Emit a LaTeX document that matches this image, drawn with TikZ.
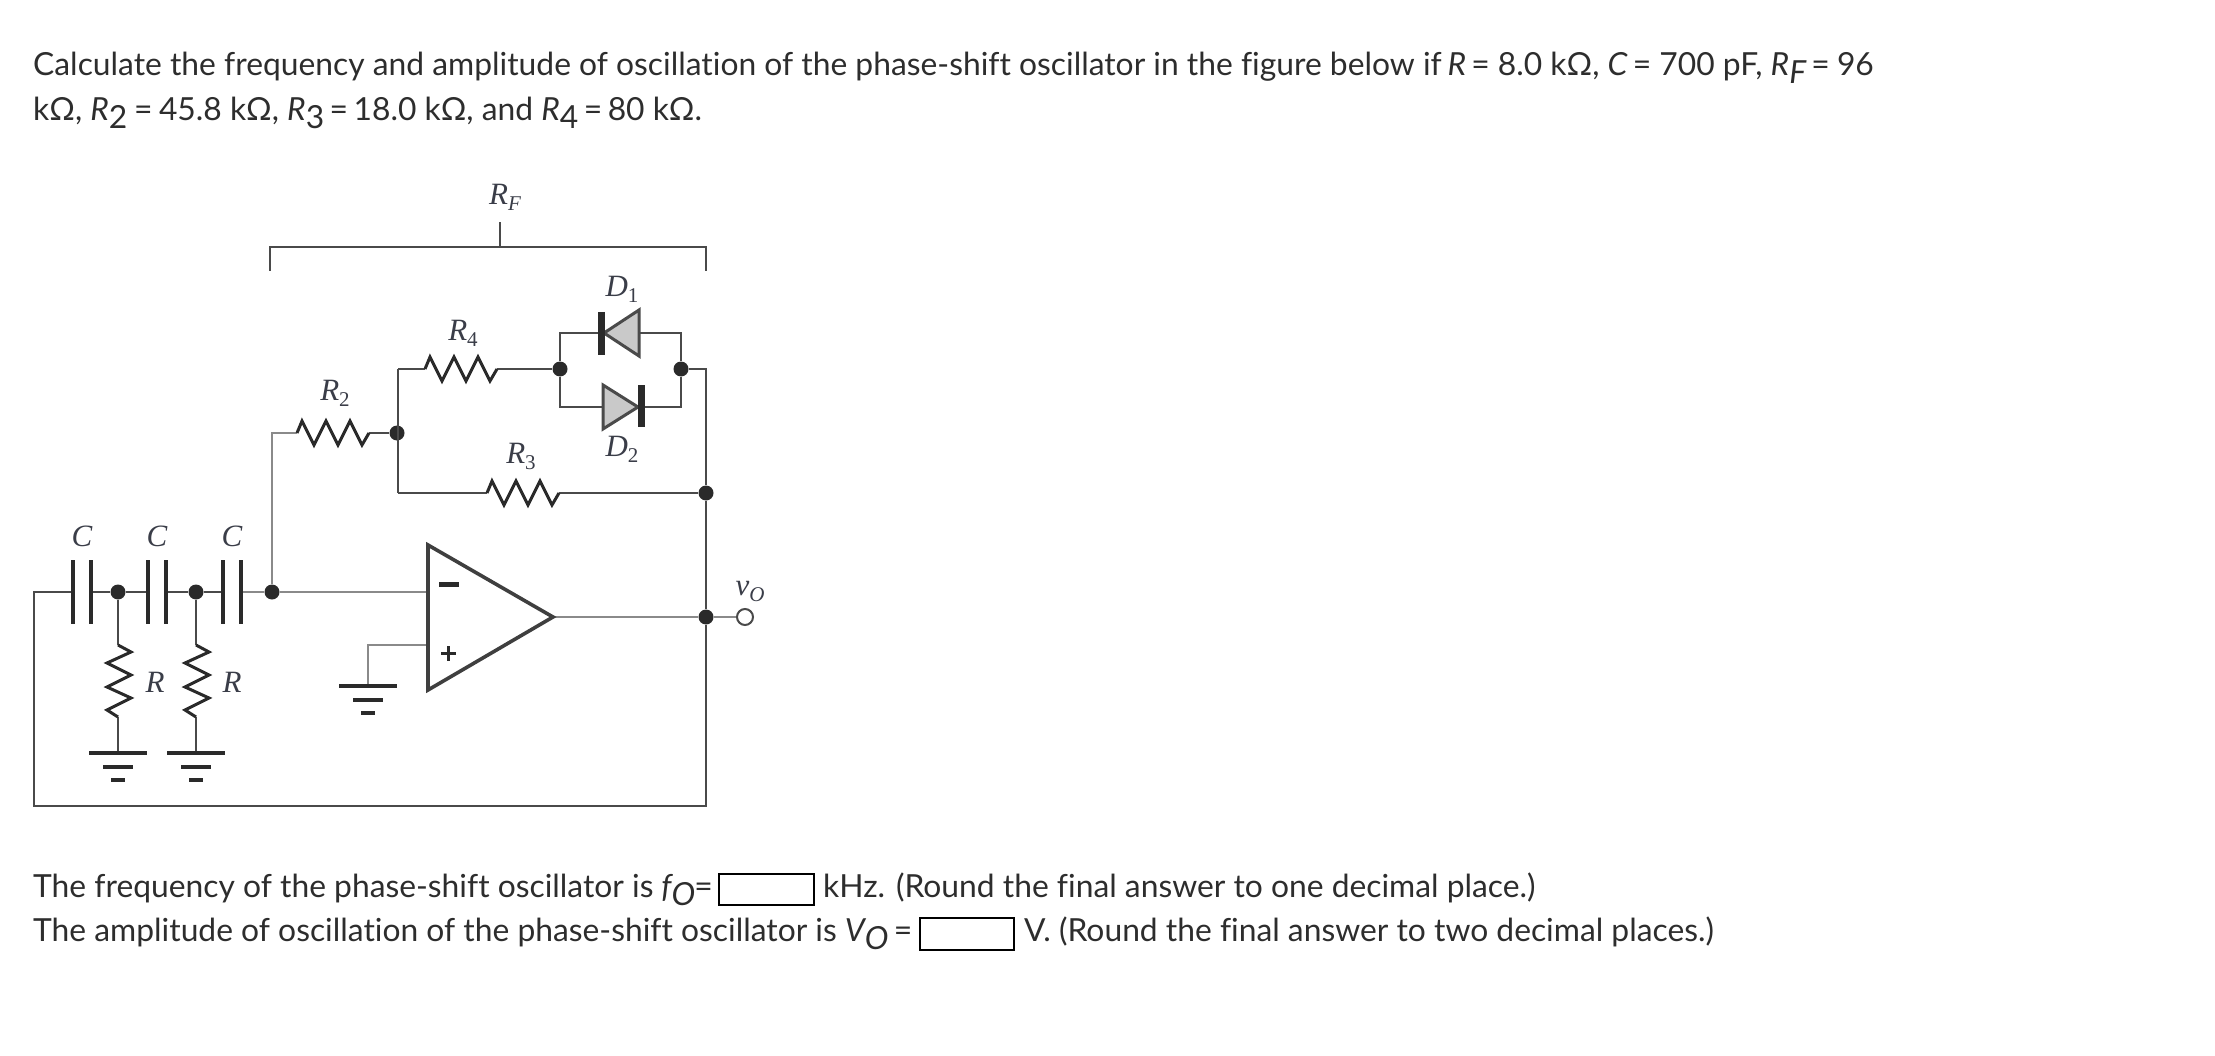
\documentclass[tikz,border=0pt]{standalone}
\usepackage{fontspec}
\usetikzlibrary{calc}
\setmainfont[Ligatures=CommonOff]{Lato}
\newfontfamily\circfont{Liberation Serif}
\newcommand{\lw}[1]{\raisebox{-8pt}{#1}}
\newcommand{\cirlab}[2]{{\itshape #1}\raisebox{-6pt}{\fontsize{21}{21}\selectfont #2}}
\newcommand{\cirlabi}[2]{{\itshape #1}\raisebox{-6pt}{\fontsize{21}{21}\selectfont\itshape #2}}
\newcommand{\tighteq}[1]{\hspace{#1}=\hspace{#1}}
\definecolor{wire}{HTML}{4A4A4A}
\definecolor{lightwire}{HTML}{8A8A8A}
\definecolor{ink}{HTML}{2A2A2A}
\definecolor{labelink}{HTML}{3A3D48}
\definecolor{diodefill}{HTML}{C9C9C9}
\definecolor{textink}{HTML}{2D2D2D}
\tikzset{
  x=1pt,y=-1pt,
  wireline/.style={draw=wire,line width=2.3pt,line join=miter},
  lightline/.style={draw=lightwire,line width=2.3pt},
  junction/.style={circle,fill=ink,inner sep=0pt,minimum size=15pt},
  terminal/.style={circle,draw=wire,line width=2pt,fill=white,inner sep=0pt,minimum size=16pt},
  txt/.style={anchor=base west,inner sep=0pt,text=textink,font=\fontsize{31.8}{36}\selectfont},
  cirtxt/.style={inner sep=0pt,text=labelink,font=\circfont\fontsize{31}{31}\selectfont},
  answerbox/.style={draw=black,line width=2pt,fill=white,inner sep=0pt},
  zig/.style={draw=ink,line width=3pt,line join=miter},
  hres/.pic={\draw[zig] (0,0) -- (5,-12) -- (17,12) -- (29,-12) -- (41,12) -- (53,-12) -- (65,12) -- (72,0);},
  vres/.pic={\draw[zig] (0,0) -- (13,7) -- (-11,18) -- (13,30) -- (-11,42) -- (13,53) -- (-11,65) -- (0,72);},
  gnd/.pic={\draw[draw=ink,line width=3.4pt] (-29,0) -- (29,0) (-15,14) -- (15,14) (-7,27) -- (7,27);},
  capac/.pic={\draw[draw=ink,line width=4pt] (-9,-32) -- (-9,32) (9,-32) -- (9,32);},
}
\begin{document}
\begin{tikzpicture}
\useasboundingbox (0,0) rectangle (2215,1056);
% text
\node[txt] (t1) at (33,76) {Calculate the frequency and amplitude of oscillation of the phase-shift oscillator in the figure below if\hspace{-2pt} {\itshape R}\,= 8.0 kΩ, {\itshape C}\,= 700 pF, {\itshape R}\lw{\itshape F}\,=\hspace{-1pt} 96};
\node[txt] (t2) at (33,121) {kΩ, {\itshape R}\lw{2}\tighteq{6.6pt}45.8 kΩ, {\itshape R}\lw{3}\tighteq{5.5pt}18.0 kΩ, and {\itshape R}\lw{4}\tighteq{5.5pt}80 kΩ.};
\node[txt] (t3) at (33,897) {The frequency of the phase-shift oscillator is {\itshape f}\lw{\itshape O}\hspace{-1pt}=};
\node[txt] (t4) at (823,897) {kHz. (Round the final answer to one decimal place.)};
\node[txt] (t5) at (33,941) {The amplitude of oscillation of the phase-shift oscillator is {\itshape V}\lw{\itshape O}\,=};
\node[txt] (t6) at (1024,941) {V. (Round the final answer to two decimal places.)};
\node[answerbox,minimum width=95pt,minimum height=31pt] (b1) at (766.5,889.5) {};
\node[answerbox,minimum width=94pt,minimum height=32pt] (b2) at (967,934) {};
% junctions
\node[junction] (j1) at (118,592) {};
\node[junction] (j2) at (196,592) {};
\node[junction] (j3) at (272,592) {};
\node[junction] (j4) at (397,433) {};
\node[junction] (j5) at (560,369) {};
\node[junction] (j6) at (681,369) {};
\node[junction] (j7) at (706,493) {};
\node[junction] (j8) at (706,617) {};
\node[terminal] (vout) at (745,617) {};
% coordinates
\coordinate (lc) at (34,806);
\coordinate (rc) at (706,806);
\coordinate (opm) at (428,592);
\coordinate (opp) at (428,645);
\coordinate (opo) at (553,617);
\coordinate (optop) at (428,545);
\coordinate (opbot) at (428,690);
\coordinate (brl) at (270,247);
\coordinate (brr) at (706,247);
\coordinate (brlb) at (270,271);
\coordinate (brrb) at (706,271);
\coordinate (brm) at (500,247);
\coordinate (brt) at (500,222);
\coordinate (c1) at (82,592);
\coordinate (c2) at (157,592);
\coordinate (c3) at (232,592);
\coordinate (g1) at (118,753);
\coordinate (g2) at (196,753);
\coordinate (g3) at (368,686);
\coordinate (r2a) at (297,433);
\coordinate (r2b) at (369,433);
\coordinate (r4a) at (425,369);
\coordinate (r4b) at (497,369);
\coordinate (r3a) at (487,493);
\coordinate (r3b) at (559,493);
\coordinate (ra1) at (118,645);
\coordinate (rb1) at (118,717);
\coordinate (ra2) at (196,645);
\coordinate (rb2) at (196,717);
\coordinate (d1l) at (603,333);
\coordinate (d1r) at (639,333);
\coordinate (d2l) at (603,407);
\coordinate (d2r) at (641,407);
% bracket
\draw[wireline] (brlb) |- (brr) -- (brrb);
\draw[wireline] (brm) -- (brt);
% wires
\draw[wireline] ($(c1)+(-9,0)$) -| (lc) -- (rc) -- (j8);
\draw[wireline] (j6) -| (j7);
\draw[wireline] (j7) -- (j8);
\draw[wireline] ($(c1)+(9,0)$) -- (j1);
\draw[wireline] (j1) -- ($(c2)+(-9,0)$);
\draw[wireline] ($(c2)+(9,0)$) -- (j2);
\draw[wireline] (j2) -- ($(c3)+(-9,0)$);
\draw[lightline] ($(c3)+(9,0)$) -- (j3);
\draw[lightline] (j3) -- (opm);
\draw[lightline] (j3) |- (r2a);
\draw[wireline] (r2b) -- (j4);
\draw[wireline] (398,369) -- (398,493);
\draw[wireline] (398,369) -- (r4a);
\draw[wireline] (r4b) -- (j5);
\draw[wireline] (398,493) -- (r3a);
\draw[wireline] (r3b) -- (j7);
\draw[wireline] (j5) |- (d1l);
\draw[wireline] (d1r) -| (j6);
\draw[wireline] (j5) |- (d2l);
\draw[wireline] (d2r) -| (j6);
\draw[lightline] (opo) -- (j8);
\draw[lightline] (j8) -- (vout);
\draw[wireline] (j1) -- (ra1);
\draw[wireline] (rb1) -- (g1);
\draw[wireline] (j2) -- (ra2);
\draw[wireline] (rb2) -- (g2);
\draw[lightline] (opp) -| (g3);
% components
\pic at (r2a) {hres};
\pic at (r4a) {hres};
\pic at (r3a) {hres};
\pic at (ra1) {vres};
\pic at (ra2) {vres};
\pic at (c1) {capac};
\pic at (c2) {capac};
\pic at (c3) {capac};
\pic at (g1) {gnd};
\pic at (g2) {gnd};
\pic at (g3) {gnd};
% diodes
\draw[draw=wire,line width=3pt,fill=diodefill,line join=miter] (639,310) -- (639,356) -- (604,333) -- cycle;
\draw[ink,line width=7pt] (601,312) -- (601,355);
\draw[draw=wire,line width=3pt,fill=diodefill,line join=miter] (603,385) -- (603,429) -- (638,407) -- cycle;
\draw[ink,line width=7pt] (641,385) -- (641,427);
% op amp
\draw[draw=ink!90!white,line width=3.6pt,line join=miter] (optop) -- (opo) -- (opbot) -- cycle;
\draw[ink,line width=5.5pt] (439,584.5) -- (459,584.5);
\draw[ink,line width=2.4pt] (441,653.5) -- (456,653.5) (448.5,646) -- (448.5,661);
% labels
\node[cirtxt] (lrf) at (505,197) {\cirlabi{R}{F}};
\node[cirtxt] (lr2) at (335,393) {\cirlab{R}{2}};
\node[cirtxt] (lr4) at (463,333) {\cirlab{R}{4}};
\node[cirtxt] (lr3) at (521,456) {\cirlab{R}{3}};
\node[cirtxt] (ld1) at (622,289) {\cirlab{D}{1}};
\node[cirtxt] (ld2) at (622,449) {\cirlab{D}{2}};
\node[cirtxt] (lc1) at (82,536) {\itshape C};
\node[cirtxt] (lc2) at (157,536) {\itshape C};
\node[cirtxt] (lc3) at (232,536) {\itshape C};
\node[cirtxt] (lra) at (155,682) {\itshape R};
\node[cirtxt] (lrb) at (232,682) {\itshape R};
\node[cirtxt] (lvo) at (750,591) {\cirlabi{v}{O}};
\end{tikzpicture}
\end{document}
